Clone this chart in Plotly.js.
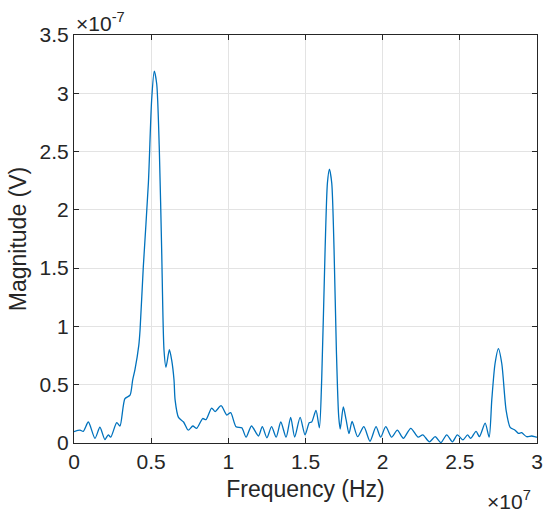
<!DOCTYPE html>
<html>
<head>
<meta charset="utf-8">
<script src="https://cdn.plot.ly/plotly-3.0.1.min.js"></script>
<style>html,body{margin:0;padding:0;background:#fff;}#chart{width:550px;height:516px;}</style>
</head>
<body>
<div id="chart"></div>
<script>
// Frequency in units of 1e6 Hz, magnitude in units of 1e-7 V
const freqMHz = [0,0.39,0.6,0.93,1.36,1.68,2.0,2.22,2.38,2.77,2.98,3.3,3.63,3.8,3.95,4.2,4.28,4.49,4.82,5.03,5.2,5.36,5.53,5.68,5.83,5.96,6.18,6.33,6.48,6.55,6.77,7.1,7.4,7.7,7.95,8.34,8.55,8.92,9.14,9.53,9.9,10.15,10.5,10.87,11.15,11.5,11.95,12.2,12.5,12.8,13.1,13.4,13.74,14.04,14.3,14.65,14.97,15.25,15.4,15.68,15.9,16.05,16.27,16.42,16.55,16.7,16.85,17.0,17.15,17.25,17.45,17.63,17.82,18.02,18.38,18.78,19.18,19.57,19.87,20.2,20.58,20.95,21.34,21.82,22.3,22.6,23.03,23.4,23.77,24.15,24.52,24.84,25.2,25.5,25.7,26.05,26.27,26.64,26.9,27.07,27.28,27.5,27.72,28.0,28.26,28.58,28.8,29.0,29.33,29.66,29.94,30];
const magE7 = [0.097,0.11,0.10,0.18,0.04,0.135,0.03,0.07,0.05,0.175,0.146,0.38,0.41,0.54,0.63,0.84,0.97,1.51,2.23,2.94,3.19,3.08,2.51,1.66,0.80,0.65,0.80,0.71,0.54,0.37,0.22,0.18,0.11,0.146,0.126,0.21,0.20,0.30,0.27,0.32,0.24,0.26,0.14,0.13,0.05,0.146,0.06,0.14,0.045,0.14,0.05,0.18,0.05,0.22,0.05,0.22,0.07,0.175,0.18,0.28,0.13,0.55,1.66,2.23,2.35,2.23,1.66,0.80,0.23,0.12,0.31,0.20,0.08,0.185,0.054,0.14,0.015,0.14,0.05,0.14,0.05,0.11,0.04,0.126,0.05,0.07,0.01,0.054,0.003,0.07,0.01,0.07,0.026,0.07,0.04,0.10,0.054,0.17,0.05,0.37,0.68,0.81,0.68,0.28,0.135,0.11,0.083,0.088,0.054,0.06,0.05,0.05];
const xTickVals = [0,0.5,1,1.5,2,2.5,3];      // ×1e7
const xTickText = ['0','0.5','1','1.5','2','2.5','3'];
const yTickVals = [0,0.5,1,1.5,2,2.5,3,3.5];  // ×1e-7
const yTickText = ['0','0.5','1','1.5','2','2.5','3','3.5'];

const x = freqMHz.map(f => f * 1e6);
const y = magE7.map(v => v * 1e-7);

const font = {family: 'Liberation Sans, Arial, sans-serif', color: '#262626'};
const axisCommon = {
  showline: true, linecolor: '#262626', linewidth: 1, mirror: 'ticks',
  ticks: 'inside', ticklen: 5, tickcolor: '#262626',
  showgrid: true, gridcolor: '#e3e3e3', gridwidth: 1,
  zeroline: false, tickfont: Object.assign({size: 21}, font)
};

Plotly.newPlot('chart', [{
  x: x, y: y, type: 'scatter', mode: 'lines',
  line: {color: '#0072BD', width: 1.3, shape: 'spline', smoothing: 0.7},
  hoverinfo: 'skip'
}], {
  width: 550, height: 516,
  margin: {l: 74, r: 13, t: 35, b: 73},
  paper_bgcolor: '#fff', plot_bgcolor: '#fff',
  showlegend: false,
  xaxis: Object.assign({}, axisCommon, {
    range: [0, 3e7],
    tickvals: xTickVals.map(v => v * 1e7), ticktext: xTickText,
    title: {text: 'Frequency (Hz)', font: Object.assign({size: 23}, font), standoff: 8}
  }),
  yaxis: Object.assign({}, axisCommon, {
    range: [0, 3.5e-7],
    tickvals: yTickVals.map(v => v * 1e-7), ticktext: yTickText,
    title: {text: 'Magnitude (V)', font: Object.assign({size: 23}, font), standoff: 6}
  }),
  annotations: [
    {xref: 'paper', yref: 'paper', x: 0, y: 1, xanchor: 'left', yanchor: 'bottom', yshift: -2,
     text: '×10<sup>-7</sup>', showarrow: false, font: Object.assign({size: 21}, font)},
    {xref: 'paper', yref: 'paper', x: 1, y: 0, xanchor: 'right', yanchor: 'top', yshift: -42, xshift: -4,
     text: '×10<sup>7</sup>', showarrow: false, font: Object.assign({size: 21}, font)}
  ]
}, {displayModeBar: false, staticPlot: true});
</script>
</body>
</html>
